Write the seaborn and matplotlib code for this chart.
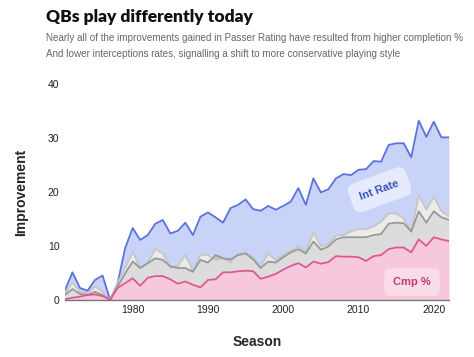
import numpy as np
import matplotlib
matplotlib.use("Agg")
import matplotlib.pyplot as plt
import seaborn as sns

seasons = list(range(1971, 2023))

# cumulative improvement levels (stack tops)
cmp_pct = [0.1, 0.4, 0.6, 0.9, 1.0, 0.7, 0.0, 2.2, 3.1, 4.0, 2.6, 4.1, 4.4, 4.4,
           3.8, 3.0, 3.4, 2.8, 2.3, 3.7, 3.8, 5.1, 5.1, 5.3, 5.4, 5.3, 3.9, 4.3,
           4.8, 5.6, 6.3, 6.8, 6.0, 7.1, 6.7, 7.0, 8.1, 8.0, 8.0, 7.9, 7.2, 8.1,
           8.3, 9.4, 9.7, 9.7, 8.8, 11.2, 10.0, 11.6, 11.2, 10.9]
dark_gray = [0.9, 2.0, 1.1, 0.9, 1.5, 0.9, 0.0, 2.5, 4.9, 7.1, 5.9, 6.8, 7.7, 7.4,
             6.2, 5.9, 5.9, 5.2, 7.4, 6.9, 8.3, 7.7, 7.5, 8.3, 8.6, 7.5, 5.9, 7.1,
             6.9, 7.9, 8.8, 9.4, 8.6, 10.8, 9.3, 9.9, 11.2, 11.6, 11.6, 11.6, 11.6, 12.0,
             12.2, 14.1, 14.3, 14.2, 12.7, 16.4, 14.3, 16.4, 15.3, 14.8]
light_gray = [1.2, 3.2, 1.5, 1.2, 2.5, 1.5, 0.0, 3.2, 5.9, 8.9, 5.9, 6.9, 9.4, 8.6,
              6.0, 6.3, 8.3, 5.4, 8.4, 8.3, 7.4, 7.7, 7.0, 8.5, 8.7, 7.9, 6.2, 8.6,
              7.3, 8.3, 9.1, 9.9, 8.9, 12.5, 9.9, 10.4, 11.9, 12.0, 12.7, 13.1, 13.1, 13.6,
              14.5, 16.0, 16.0, 15.1, 12.5, 19.4, 16.7, 19.1, 16.5, 15.4]
int_rate = [1.8, 5.1, 2.2, 1.7, 3.7, 4.5, 0.0, 3.1, 9.6, 13.3, 11.1, 12.0, 14.1, 14.8,
            12.3, 12.8, 14.3, 12.0, 15.4, 16.2, 15.3, 14.3, 17.0, 17.6, 18.6, 16.8, 16.5, 17.4,
            16.7, 17.4, 18.2, 20.7, 17.6, 22.5, 19.9, 20.5, 22.5, 23.3, 23.1, 24.1, 24.2, 25.7,
            25.6, 28.7, 29.0, 29.0, 26.4, 33.2, 30.2, 33.0, 30.1, 30.1]

x = np.array(seasons)
c = np.array(cmp_pct)
d = np.array(dark_gray)
l = np.array(light_gray)
b = np.array(int_rate)

sns.set_theme(style="white")
plt.rcParams["font.family"] = ["Liberation Sans", "DejaVu Sans"]

fig = plt.figure(figsize=(4.74, 3.57), dpi=100)
ax = fig.add_axes([0.137, 0.16, 0.81, 0.605])

ax.fill_between(x, 0, c, color="#f7c8dc", lw=0)
ax.fill_between(x, c, d, color="#dcdcdc", lw=0)
ax.fill_between(x, d, l, where=l >= d, interpolate=True, color="#ebebe8", lw=0)
ax.fill_between(x, d, l, where=l < d, interpolate=True, color="#c4c4c4", lw=0)
ax.fill_between(x, np.maximum(l, d), b, color="#c9d3f8", lw=0)

sns.lineplot(x=x, y=b, ax=ax, color="#5b72dc", lw=1.3)
sns.lineplot(x=x, y=l, ax=ax, color="#c6c6c6", lw=1.3)
sns.lineplot(x=x, y=d, ax=ax, color="#999999", lw=1.3)
sns.lineplot(x=x, y=c, ax=ax, color="#e0588e", lw=1.3)

ax.set_xlim(1971, 2022)
ax.set_ylim(0, 40)
ax.set_xticks([1980, 1990, 2000, 2010, 2020])
ax.set_yticks([0, 10, 20, 30, 40])
ax.tick_params(length=0, labelsize=7.5, colors="#222222", pad=4)
for s in ["top", "right", "left"]:
    ax.spines[s].set_visible(False)
ax.spines["bottom"].set_color("#777777")
ax.spines["bottom"].set_linewidth(1.0)

ax.set_xlabel("Season", fontsize=10, fontweight="bold", labelpad=14)
ax.set_ylabel("Improvement", fontsize=10, fontweight="bold", labelpad=14)

ax.text(2012.8, 20.4, "Int Rate", rotation=20, ha="center", va="center",
        fontsize=8, fontweight="bold", color="#3b50b8",
        bbox=dict(boxstyle="round,pad=0.9,rounding_size=0.7", fc="#e9eefd", ec="none", alpha=0.9))
ax.text(2017.1, 3.3, "Cmp %", ha="center", va="center",
        fontsize=8, fontweight="bold", color="#c2386f",
        bbox=dict(boxstyle="round,pad=0.8,rounding_size=0.6", fc="#fbdfeb", ec="none", alpha=0.9))

fig.text(0.097, 0.952, "QBs play differently today", fontsize=12.5, fontweight="heavy",
         color="#111111", va="center", family=["Lato", "DejaVu Sans"])
fig.text(0.097, 0.893, "Nearly all of the improvements gained in Passer Rating have resulted from higher completion %",
         fontsize=7.1, color="#666666", va="center")
fig.text(0.097, 0.848, "And lower interceptions rates, signalling a shift to more conservative playing style",
         fontsize=7.1, color="#666666", va="center")

fig.savefig("out.png", dpi=100)
